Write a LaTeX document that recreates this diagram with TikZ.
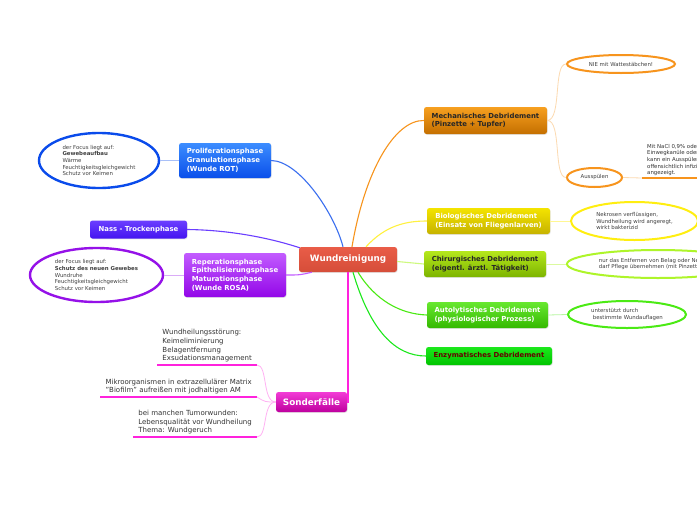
\documentclass[tikz,border=0pt]{standalone}
\usepackage{fontspec}
\setmainfont{DejaVu Sans}
\usetikzlibrary{shapes.geometric,shadows}
\definecolor{wundred}{HTML}{E8543E}
\definecolor{mechtop}{HTML}{F7A020}
\definecolor{mechbot}{HTML}{C46F00}
\definecolor{biotop}{HTML}{F4E400}
\definecolor{biobot}{HTML}{C6B200}
\definecolor{chirtop}{HTML}{B5E81C}
\definecolor{chirbot}{HTML}{7DB400}
\definecolor{autotop}{HTML}{68E830}
\definecolor{autobot}{HTML}{34B900}
\definecolor{enztop}{HTML}{1CE81C}
\definecolor{enzbot}{HTML}{00C400}
\definecolor{proltop}{HTML}{3C8DFF}
\definecolor{prolbot}{HTML}{0A4FEA}
\definecolor{nasstop}{HTML}{6B3EFF}
\definecolor{nassbot}{HTML}{4414F0}
\definecolor{reptop}{HTML}{C25CFF}
\definecolor{repbot}{HTML}{9306E8}
\definecolor{sontop}{HTML}{F23CD6}
\definecolor{sonbot}{HTML}{BE009E}
\definecolor{orangeline}{HTML}{F7941D}
\definecolor{yellowline}{HTML}{FFEE10}
\definecolor{limeline}{HTML}{AEF52A}
\definecolor{greenline}{HTML}{4BEA14}
\definecolor{blueline}{HTML}{0A4BEB}
\definecolor{purpleline}{HTML}{9511E8}
\definecolor{pinkline}{HTML}{FF22DD}
\begin{document}
\begin{tikzpicture}[x=1pt,y=-1pt,
    topic/.style={rounded corners=2.5pt,inner sep=0pt,align=left,text=white,
      font=\fontsize{6.9}{8.7}\selectfont\bfseries,
      drop shadow={opacity=0.2,shadow xshift=0.6pt,shadow yshift=-0.8pt}},
    note/.style={ellipse,draw,line width=2pt,inner sep=0pt,align=left,
      font=\fontsize{5.4}{6.6}\selectfont,text=black!75},
    memo/.style={inner xsep=5pt,inner ysep=2.5pt,align=left,
      font=\fontsize{7}{8.7}\selectfont,text=black!80},
    branch/.style={line width=1.1pt},
    twig/.style={line width=0.8pt}]
  \clip (0,0) rectangle (697,520);
  \fill[white] (0,0) rectangle (697,520);

  % Mitte
  \node[topic,minimum width=98,minimum height=25,top color=wundred!95!white,bottom color=wundred!92!black,
    font=\fontsize{8.8}{10}\selectfont\bfseries] (wund) at (348,259.5) {Wundreinigung};

  % rechte Seite
  \node[topic,minimum width=123,minimum height=27,top color=mechtop,bottom color=mechbot,text=black!85]
    (mech) at (485.5,120.5) {Mechanisches Debridement\\(Pinzette + Tupfer)};
  \node[topic,minimum width=123,minimum height=26,top color=biotop,bottom color=biobot]
    (bio) at (488.5,221) {Biologisches Debridement\\(Einsatz von Fliegenlarven)};
  \node[topic,minimum width=122,minimum height=26,top color=chirtop,bottom color=chirbot,text=black!85]
    (chir) at (485,264) {Chirurgisches Debridement\\(eigentl. ärztl. Tätigkeit)};
  \node[topic,minimum width=121,minimum height=26,top color=autotop,bottom color=autobot]
    (auto) at (487.5,315) {Autolytisches Debridement\\(physiologischer Prozess)};
  \node[topic,minimum width=126,minimum height=18,top color=enztop,bottom color=enzbot,text=red!40!black]
    (enz) at (489,356) {Enzymatisches Debridement};

  \node[note,draw=orangeline,minimum width=108,minimum height=18] (nie) at (621,64) {NIE mit Wattestäbchen!};
  \node[note,draw=orangeline,minimum width=55,minimum height=19] (aus) at (594.5,177.5) {Ausspülen};
  \node[memo,anchor=south west,font=\fontsize{5.4}{6.6}\selectfont,inner ysep=2pt] (nacl) at (642,178)
    {Mit NaCl 0,9\% oder\\Einwegkanüle oder\\kann ein Ausspülen\\offensichtlich infizierter\\angezeigt.};
  \node[note,draw=yellowline,minimum width=127,minimum height=38] (nekro) at (634.5,221)
    {Nekrosen verflüssigen,\\Wundheilung wird angeregt,\\wirkt bakterizid};
  \node[note,draw=limeline,minimum width=182,minimum height=28] (pflege) at (658,264)
    {nur das Entfernen von Belag oder Nekrosen\\darf Pflege übernehmen (mit Pinzette)};
  \node[note,draw=greenline,minimum width=118,minimum height=27] (auflage) at (627,314.5)
    {unterstützt durch\\\ bestimmte Wundauflagen};

  % linke Seite
  \node[topic,minimum width=92,minimum height=35,top color=proltop,bottom color=prolbot]
    (prol) at (225,160.5) {Proliferationsphase\\Granulationsphase\\(Wunde ROT)};
  \node[topic,minimum width=97,minimum height=18,top color=nasstop,bottom color=nassbot]
    (nass) at (138.5,229.5) {Nass - Trockenphase};
  \node[topic,minimum width=102,minimum height=44,top color=reptop,bottom color=repbot]
    (rep) at (235,275) {Reperationsphase\\Epithelisierungsphase\\Maturationsphase\\(Wunde ROSA)};
  \node[topic,minimum width=71,minimum height=20,top color=sontop,bottom color=sonbot,
    font=\fontsize{8.8}{10}\selectfont\bfseries] (sonder) at (311.5,402) {Sonderfälle};

  \node[note,draw=blueline,line width=2.4pt,minimum width=120,minimum height=55] (aufbau) at (99,160.5)
    {der Focus liegt auf:\\\textbf{Gewebeaufbau}\\Wärme\\Feuchtigkeitsgleichgewicht\\Schutz vor Keimen};
  \node[note,draw=purpleline,line width=2.4pt,minimum width=133,minimum height=54] (schutz) at (96.5,275)
    {der Focus liegt auf:\\\textbf{Schutz des neuen Gewebes}\\Wundruhe\\Feuchtigkeitsgleichgewicht\\Schutz vor Keimen};

  \node[memo,anchor=south east] (stoer) at (257,365)
    {Wundheilungsstörung:\\Keimeliminierung\\Belagentfernung\\Exsudationsmanagement};
  \node[memo,anchor=south east] (biofilm) at (257,397)
    {Mikroorganismen in extrazellulärer Matrix\\"Biofilm" aufreißen mit jodhaltigen AM};
  \node[memo,anchor=south east] (tumor) at (257,437)
    {bei manchen Tumorwunden:\\Lebensqualität vor Wundheilung\\Thema: Wundgeruch};

  % Hauptäste
  \draw[branch,blueline!80!white] (prol.east) .. controls (300,161) and (335,215) .. ([xshift=-5pt]wund.north);
  \draw[branch,nasstop] (nass.east) .. controls (230,230) and (270,238) .. ([xshift=1pt,yshift=-1pt]wund.north west);
  \draw[branch,reptop] (rep.east) .. controls (300,275) .. ([xshift=13pt]wund.south west);
  \draw[branch,orangeline] ([xshift=4pt]wund.north) .. controls (365,170) and (395,120) .. (mech.west);
  \draw[branch,yellowline!80] ([xshift=18pt]wund.north) .. controls (385,226) and (405,221) .. (bio.west);
  \draw[branch,limeline!60] ([yshift=-2pt]wund.east) -- (chir.west);
  \draw[branch,greenline] ([xshift=10pt]wund.south) .. controls (375,300) and (400,314) .. (auto.west);
  \draw[branch,enztop] ([xshift=5pt]wund.south) .. controls (370,330) and (395,356) .. (enz.west);
  \draw[branch,pinkline] (wund.south) |- (sonder.east);

  % Zweige
  \draw[twig,orangeline!35] (mech.east) .. controls (562,120) and (553,64) .. (nie.west);
  \draw[twig,orangeline!35] (mech.east) .. controls (562,120) and (553,177.5) .. (aus.west);
  \draw[twig,orangeline!35] (aus.east) -- (nacl.south west);
  \draw[line width=2.2pt,orangeline] (nacl.south west) -- (nacl.south east);
  \draw[twig,yellowline!45] (bio.east) -- (nekro.west);
  \draw[twig,limeline!45] (chir.east) -- (pflege.west);
  \draw[twig,greenline!40] (auto.east) -- (auflage.west);
  \draw[twig,blueline!35] (aufbau.east) -- (prol.west);
  \draw[twig,purpleline!35] (schutz.east) -- (rep.west);
  \foreach \t in {stoer,biofilm,tumor}{
    \draw[line width=2.2pt,pinkline] (\t.south west) -- (\t.south east);
  }
  \draw[twig,pinkline!35] (sonder.west) .. controls (262,402) and (268,365) .. (stoer.south east);
  \draw[twig,pinkline!35] (sonder.west) .. controls (265,402) .. (biofilm.south east);
  \draw[twig,pinkline!35] (sonder.west) .. controls (262,402) and (268,437) .. (tumor.south east);
\end{tikzpicture}
\end{document}
